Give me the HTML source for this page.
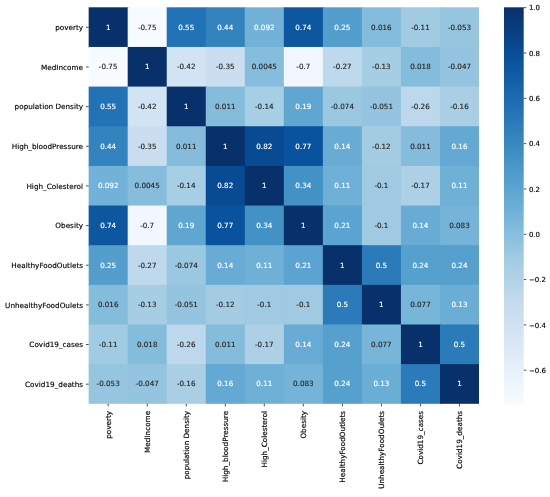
<!DOCTYPE html><html><head><meta charset="utf-8"><title>Correlation heatmap</title><style>html,body{margin:0;padding:0;background:#fff}svg{display:block}text{paint-order:stroke;stroke-width:0.15px;stroke-linejoin:round}.tx{filter:url(#bl)}</style></head><body><svg width="550" height="497" viewBox="0 0 550 497" font-family="'DejaVu Sans', 'Liberation Sans', sans-serif" font-size="7.25">
<defs><linearGradient id="cb" x1="0" y1="1" x2="0" y2="0">
<stop offset="0%" stop-color="#f7fbff"/>
<stop offset="12.5%" stop-color="#deebf7"/>
<stop offset="25%" stop-color="#c6dbef"/>
<stop offset="37.5%" stop-color="#9dcae1"/>
<stop offset="50%" stop-color="#6aaed6"/>
<stop offset="62.5%" stop-color="#4191c6"/>
<stop offset="75%" stop-color="#2070b4"/>
<stop offset="87.5%" stop-color="#08509b"/>
<stop offset="100%" stop-color="#08306b"/>
</linearGradient><filter id="bl" x="-5%" y="-5%" width="110%" height="110%"><feGaussianBlur stdDeviation="0.35"/></filter></defs>
<rect width="550" height="497" fill="#fff"/>
<g>
<rect x="88.65" y="7.30" width="40.04" height="40.65" fill="#08306b"/>
<rect x="127.69" y="7.30" width="40.04" height="40.65" fill="#f7fbff"/>
<rect x="166.72" y="7.30" width="40.04" height="40.65" fill="#2272b6"/>
<rect x="205.76" y="7.30" width="40.04" height="40.65" fill="#3383be"/>
<rect x="244.79" y="7.30" width="40.04" height="40.65" fill="#72b2d8"/>
<rect x="283.83" y="7.30" width="40.04" height="40.65" fill="#0d57a1"/>
<rect x="322.86" y="7.30" width="40.04" height="40.65" fill="#539ecd"/>
<rect x="361.89" y="7.30" width="40.04" height="40.65" fill="#84bcdb"/>
<rect x="400.93" y="7.30" width="40.04" height="40.65" fill="#a1cbe2"/>
<rect x="439.97" y="7.30" width="39.04" height="40.65" fill="#95c5df"/>
<rect x="88.65" y="46.95" width="40.04" height="40.65" fill="#f7fbff"/>
<rect x="127.69" y="46.95" width="40.04" height="40.65" fill="#08306b"/>
<rect x="166.72" y="46.95" width="40.04" height="40.65" fill="#d2e3f3"/>
<rect x="205.76" y="46.95" width="40.04" height="40.65" fill="#cadef0"/>
<rect x="244.79" y="46.95" width="40.04" height="40.65" fill="#87bddc"/>
<rect x="283.83" y="46.95" width="40.04" height="40.65" fill="#f2f7fd"/>
<rect x="322.86" y="46.95" width="40.04" height="40.65" fill="#bed8ec"/>
<rect x="361.89" y="46.95" width="40.04" height="40.65" fill="#a5cde3"/>
<rect x="400.93" y="46.95" width="40.04" height="40.65" fill="#84bcdb"/>
<rect x="439.97" y="46.95" width="39.04" height="40.65" fill="#94c4df"/>
<rect x="88.65" y="86.60" width="40.04" height="40.65" fill="#2272b6"/>
<rect x="127.69" y="86.60" width="40.04" height="40.65" fill="#d2e3f3"/>
<rect x="166.72" y="86.60" width="40.04" height="40.65" fill="#08306b"/>
<rect x="205.76" y="86.60" width="40.04" height="40.65" fill="#85bcdc"/>
<rect x="244.79" y="86.60" width="40.04" height="40.65" fill="#a6cee4"/>
<rect x="283.83" y="86.60" width="40.04" height="40.65" fill="#5fa6d1"/>
<rect x="322.86" y="86.60" width="40.04" height="40.65" fill="#9ac8e0"/>
<rect x="361.89" y="86.60" width="40.04" height="40.65" fill="#94c4df"/>
<rect x="400.93" y="86.60" width="40.04" height="40.65" fill="#bdd7ec"/>
<rect x="439.97" y="86.60" width="39.04" height="40.65" fill="#aacfe5"/>
<rect x="88.65" y="126.25" width="40.04" height="40.65" fill="#3383be"/>
<rect x="127.69" y="126.25" width="40.04" height="40.65" fill="#cadef0"/>
<rect x="166.72" y="126.25" width="40.04" height="40.65" fill="#85bcdc"/>
<rect x="205.76" y="126.25" width="40.04" height="40.65" fill="#08306b"/>
<rect x="244.79" y="126.25" width="40.04" height="40.65" fill="#084b93"/>
<rect x="283.83" y="126.25" width="40.04" height="40.65" fill="#09529d"/>
<rect x="322.86" y="126.25" width="40.04" height="40.65" fill="#68acd5"/>
<rect x="361.89" y="126.25" width="40.04" height="40.65" fill="#a3cce3"/>
<rect x="400.93" y="126.25" width="40.04" height="40.65" fill="#85bcdc"/>
<rect x="439.97" y="126.25" width="39.04" height="40.65" fill="#64a9d3"/>
<rect x="88.65" y="165.90" width="40.04" height="40.65" fill="#72b2d8"/>
<rect x="127.69" y="165.90" width="40.04" height="40.65" fill="#87bddc"/>
<rect x="166.72" y="165.90" width="40.04" height="40.65" fill="#a6cee4"/>
<rect x="205.76" y="165.90" width="40.04" height="40.65" fill="#084b93"/>
<rect x="244.79" y="165.90" width="40.04" height="40.65" fill="#08306b"/>
<rect x="283.83" y="165.90" width="40.04" height="40.65" fill="#4292c6"/>
<rect x="322.86" y="165.90" width="40.04" height="40.65" fill="#6fb0d7"/>
<rect x="361.89" y="165.90" width="40.04" height="40.65" fill="#9fcae1"/>
<rect x="400.93" y="165.90" width="40.04" height="40.65" fill="#add0e6"/>
<rect x="439.97" y="165.90" width="39.04" height="40.65" fill="#6fb0d7"/>
<rect x="88.65" y="205.55" width="40.04" height="40.65" fill="#0d57a1"/>
<rect x="127.69" y="205.55" width="40.04" height="40.65" fill="#f2f7fd"/>
<rect x="166.72" y="205.55" width="40.04" height="40.65" fill="#5fa6d1"/>
<rect x="205.76" y="205.55" width="40.04" height="40.65" fill="#09529d"/>
<rect x="244.79" y="205.55" width="40.04" height="40.65" fill="#4292c6"/>
<rect x="283.83" y="205.55" width="40.04" height="40.65" fill="#08306b"/>
<rect x="322.86" y="205.55" width="40.04" height="40.65" fill="#5ba3d0"/>
<rect x="361.89" y="205.55" width="40.04" height="40.65" fill="#9fcae1"/>
<rect x="400.93" y="205.55" width="40.04" height="40.65" fill="#68acd5"/>
<rect x="439.97" y="205.55" width="39.04" height="40.65" fill="#75b4d8"/>
<rect x="88.65" y="245.20" width="40.04" height="40.65" fill="#539ecd"/>
<rect x="127.69" y="245.20" width="40.04" height="40.65" fill="#bed8ec"/>
<rect x="166.72" y="245.20" width="40.04" height="40.65" fill="#9ac8e0"/>
<rect x="205.76" y="245.20" width="40.04" height="40.65" fill="#68acd5"/>
<rect x="244.79" y="245.20" width="40.04" height="40.65" fill="#6fb0d7"/>
<rect x="283.83" y="245.20" width="40.04" height="40.65" fill="#5ba3d0"/>
<rect x="322.86" y="245.20" width="40.04" height="40.65" fill="#08306b"/>
<rect x="361.89" y="245.20" width="40.04" height="40.65" fill="#2b7bba"/>
<rect x="400.93" y="245.20" width="40.04" height="40.65" fill="#56a0ce"/>
<rect x="439.97" y="245.20" width="39.04" height="40.65" fill="#56a0ce"/>
<rect x="88.65" y="284.85" width="40.04" height="40.65" fill="#84bcdb"/>
<rect x="127.69" y="284.85" width="40.04" height="40.65" fill="#a5cde3"/>
<rect x="166.72" y="284.85" width="40.04" height="40.65" fill="#94c4df"/>
<rect x="205.76" y="284.85" width="40.04" height="40.65" fill="#a3cce3"/>
<rect x="244.79" y="284.85" width="40.04" height="40.65" fill="#9fcae1"/>
<rect x="283.83" y="284.85" width="40.04" height="40.65" fill="#9fcae1"/>
<rect x="322.86" y="284.85" width="40.04" height="40.65" fill="#2b7bba"/>
<rect x="361.89" y="284.85" width="40.04" height="40.65" fill="#08306b"/>
<rect x="400.93" y="284.85" width="40.04" height="40.65" fill="#77b5d9"/>
<rect x="439.97" y="284.85" width="39.04" height="40.65" fill="#6aaed6"/>
<rect x="88.65" y="324.50" width="40.04" height="40.65" fill="#a1cbe2"/>
<rect x="127.69" y="324.50" width="40.04" height="40.65" fill="#84bcdb"/>
<rect x="166.72" y="324.50" width="40.04" height="40.65" fill="#bdd7ec"/>
<rect x="205.76" y="324.50" width="40.04" height="40.65" fill="#85bcdc"/>
<rect x="244.79" y="324.50" width="40.04" height="40.65" fill="#add0e6"/>
<rect x="283.83" y="324.50" width="40.04" height="40.65" fill="#68acd5"/>
<rect x="322.86" y="324.50" width="40.04" height="40.65" fill="#56a0ce"/>
<rect x="361.89" y="324.50" width="40.04" height="40.65" fill="#77b5d9"/>
<rect x="400.93" y="324.50" width="40.04" height="40.65" fill="#08306b"/>
<rect x="439.97" y="324.50" width="39.04" height="40.65" fill="#2b7bba"/>
<rect x="88.65" y="364.15" width="40.04" height="39.65" fill="#95c5df"/>
<rect x="127.69" y="364.15" width="40.04" height="39.65" fill="#94c4df"/>
<rect x="166.72" y="364.15" width="40.04" height="39.65" fill="#aacfe5"/>
<rect x="205.76" y="364.15" width="40.04" height="39.65" fill="#64a9d3"/>
<rect x="244.79" y="364.15" width="40.04" height="39.65" fill="#6fb0d7"/>
<rect x="283.83" y="364.15" width="40.04" height="39.65" fill="#75b4d8"/>
<rect x="322.86" y="364.15" width="40.04" height="39.65" fill="#56a0ce"/>
<rect x="361.89" y="364.15" width="40.04" height="39.65" fill="#6aaed6"/>
<rect x="400.93" y="364.15" width="40.04" height="39.65" fill="#2b7bba"/>
<rect x="439.97" y="364.15" width="39.04" height="39.65" fill="#08306b"/>
</g>
<g class="tx" text-anchor="middle" font-size="7.2">
<text x="108.17" y="29.63" fill="#ffffff" stroke="#ffffff">1</text>
<text x="147.20" y="29.63" fill="#262626" stroke="#262626">-0.75</text>
<text x="186.24" y="29.63" fill="#ffffff" stroke="#ffffff">0.55</text>
<text x="225.27" y="29.63" fill="#ffffff" stroke="#ffffff">0.44</text>
<text x="264.31" y="29.63" fill="#ffffff" stroke="#ffffff">0.092</text>
<text x="303.34" y="29.63" fill="#ffffff" stroke="#ffffff">0.74</text>
<text x="342.38" y="29.63" fill="#ffffff" stroke="#ffffff">0.25</text>
<text x="381.41" y="29.63" fill="#262626" stroke="#262626">0.016</text>
<text x="420.45" y="29.63" fill="#262626" stroke="#262626">-0.11</text>
<text x="459.48" y="29.63" fill="#262626" stroke="#262626">-0.053</text>
<text x="108.17" y="69.28" fill="#262626" stroke="#262626">-0.75</text>
<text x="147.20" y="69.28" fill="#ffffff" stroke="#ffffff">1</text>
<text x="186.24" y="69.28" fill="#262626" stroke="#262626">-0.42</text>
<text x="225.27" y="69.28" fill="#262626" stroke="#262626">-0.35</text>
<text x="264.31" y="69.28" fill="#262626" stroke="#262626">0.0045</text>
<text x="303.34" y="69.28" fill="#262626" stroke="#262626">-0.7</text>
<text x="342.38" y="69.28" fill="#262626" stroke="#262626">-0.27</text>
<text x="381.41" y="69.28" fill="#262626" stroke="#262626">-0.13</text>
<text x="420.45" y="69.28" fill="#262626" stroke="#262626">0.018</text>
<text x="459.48" y="69.28" fill="#262626" stroke="#262626">-0.047</text>
<text x="108.17" y="108.93" fill="#ffffff" stroke="#ffffff">0.55</text>
<text x="147.20" y="108.93" fill="#262626" stroke="#262626">-0.42</text>
<text x="186.24" y="108.93" fill="#ffffff" stroke="#ffffff">1</text>
<text x="225.27" y="108.93" fill="#262626" stroke="#262626">0.011</text>
<text x="264.31" y="108.93" fill="#262626" stroke="#262626">-0.14</text>
<text x="303.34" y="108.93" fill="#ffffff" stroke="#ffffff">0.19</text>
<text x="342.38" y="108.93" fill="#262626" stroke="#262626">-0.074</text>
<text x="381.41" y="108.93" fill="#262626" stroke="#262626">-0.051</text>
<text x="420.45" y="108.93" fill="#262626" stroke="#262626">-0.26</text>
<text x="459.48" y="108.93" fill="#262626" stroke="#262626">-0.16</text>
<text x="108.17" y="148.58" fill="#ffffff" stroke="#ffffff">0.44</text>
<text x="147.20" y="148.58" fill="#262626" stroke="#262626">-0.35</text>
<text x="186.24" y="148.58" fill="#262626" stroke="#262626">0.011</text>
<text x="225.27" y="148.58" fill="#ffffff" stroke="#ffffff">1</text>
<text x="264.31" y="148.58" fill="#ffffff" stroke="#ffffff">0.82</text>
<text x="303.34" y="148.58" fill="#ffffff" stroke="#ffffff">0.77</text>
<text x="342.38" y="148.58" fill="#ffffff" stroke="#ffffff">0.14</text>
<text x="381.41" y="148.58" fill="#262626" stroke="#262626">-0.12</text>
<text x="420.45" y="148.58" fill="#262626" stroke="#262626">0.011</text>
<text x="459.48" y="148.58" fill="#ffffff" stroke="#ffffff">0.16</text>
<text x="108.17" y="188.23" fill="#ffffff" stroke="#ffffff">0.092</text>
<text x="147.20" y="188.23" fill="#262626" stroke="#262626">0.0045</text>
<text x="186.24" y="188.23" fill="#262626" stroke="#262626">-0.14</text>
<text x="225.27" y="188.23" fill="#ffffff" stroke="#ffffff">0.82</text>
<text x="264.31" y="188.23" fill="#ffffff" stroke="#ffffff">1</text>
<text x="303.34" y="188.23" fill="#ffffff" stroke="#ffffff">0.34</text>
<text x="342.38" y="188.23" fill="#ffffff" stroke="#ffffff">0.11</text>
<text x="381.41" y="188.23" fill="#262626" stroke="#262626">-0.1</text>
<text x="420.45" y="188.23" fill="#262626" stroke="#262626">-0.17</text>
<text x="459.48" y="188.23" fill="#ffffff" stroke="#ffffff">0.11</text>
<text x="108.17" y="227.88" fill="#ffffff" stroke="#ffffff">0.74</text>
<text x="147.20" y="227.88" fill="#262626" stroke="#262626">-0.7</text>
<text x="186.24" y="227.88" fill="#ffffff" stroke="#ffffff">0.19</text>
<text x="225.27" y="227.88" fill="#ffffff" stroke="#ffffff">0.77</text>
<text x="264.31" y="227.88" fill="#ffffff" stroke="#ffffff">0.34</text>
<text x="303.34" y="227.88" fill="#ffffff" stroke="#ffffff">1</text>
<text x="342.38" y="227.88" fill="#ffffff" stroke="#ffffff">0.21</text>
<text x="381.41" y="227.88" fill="#262626" stroke="#262626">-0.1</text>
<text x="420.45" y="227.88" fill="#ffffff" stroke="#ffffff">0.14</text>
<text x="459.48" y="227.88" fill="#262626" stroke="#262626">0.083</text>
<text x="108.17" y="267.53" fill="#ffffff" stroke="#ffffff">0.25</text>
<text x="147.20" y="267.53" fill="#262626" stroke="#262626">-0.27</text>
<text x="186.24" y="267.53" fill="#262626" stroke="#262626">-0.074</text>
<text x="225.27" y="267.53" fill="#ffffff" stroke="#ffffff">0.14</text>
<text x="264.31" y="267.53" fill="#ffffff" stroke="#ffffff">0.11</text>
<text x="303.34" y="267.53" fill="#ffffff" stroke="#ffffff">0.21</text>
<text x="342.38" y="267.53" fill="#ffffff" stroke="#ffffff">1</text>
<text x="381.41" y="267.53" fill="#ffffff" stroke="#ffffff">0.5</text>
<text x="420.45" y="267.53" fill="#ffffff" stroke="#ffffff">0.24</text>
<text x="459.48" y="267.53" fill="#ffffff" stroke="#ffffff">0.24</text>
<text x="108.17" y="307.18" fill="#262626" stroke="#262626">0.016</text>
<text x="147.20" y="307.18" fill="#262626" stroke="#262626">-0.13</text>
<text x="186.24" y="307.18" fill="#262626" stroke="#262626">-0.051</text>
<text x="225.27" y="307.18" fill="#262626" stroke="#262626">-0.12</text>
<text x="264.31" y="307.18" fill="#262626" stroke="#262626">-0.1</text>
<text x="303.34" y="307.18" fill="#262626" stroke="#262626">-0.1</text>
<text x="342.38" y="307.18" fill="#ffffff" stroke="#ffffff">0.5</text>
<text x="381.41" y="307.18" fill="#ffffff" stroke="#ffffff">1</text>
<text x="420.45" y="307.18" fill="#262626" stroke="#262626">0.077</text>
<text x="459.48" y="307.18" fill="#ffffff" stroke="#ffffff">0.13</text>
<text x="108.17" y="346.83" fill="#262626" stroke="#262626">-0.11</text>
<text x="147.20" y="346.83" fill="#262626" stroke="#262626">0.018</text>
<text x="186.24" y="346.83" fill="#262626" stroke="#262626">-0.26</text>
<text x="225.27" y="346.83" fill="#262626" stroke="#262626">0.011</text>
<text x="264.31" y="346.83" fill="#262626" stroke="#262626">-0.17</text>
<text x="303.34" y="346.83" fill="#ffffff" stroke="#ffffff">0.14</text>
<text x="342.38" y="346.83" fill="#ffffff" stroke="#ffffff">0.24</text>
<text x="381.41" y="346.83" fill="#262626" stroke="#262626">0.077</text>
<text x="420.45" y="346.83" fill="#ffffff" stroke="#ffffff">1</text>
<text x="459.48" y="346.83" fill="#ffffff" stroke="#ffffff">0.5</text>
<text x="108.17" y="386.48" fill="#262626" stroke="#262626">-0.053</text>
<text x="147.20" y="386.48" fill="#262626" stroke="#262626">-0.047</text>
<text x="186.24" y="386.48" fill="#262626" stroke="#262626">-0.16</text>
<text x="225.27" y="386.48" fill="#ffffff" stroke="#ffffff">0.16</text>
<text x="264.31" y="386.48" fill="#ffffff" stroke="#ffffff">0.11</text>
<text x="303.34" y="386.48" fill="#262626" stroke="#262626">0.083</text>
<text x="342.38" y="386.48" fill="#ffffff" stroke="#ffffff">0.24</text>
<text x="381.41" y="386.48" fill="#ffffff" stroke="#ffffff">0.13</text>
<text x="420.45" y="386.48" fill="#ffffff" stroke="#ffffff">0.5</text>
<text x="459.48" y="386.48" fill="#ffffff" stroke="#ffffff">1</text>
</g>
<g stroke="#000" stroke-width="0.7">
<line x1="86.05" y1="27.32" x2="88.65" y2="27.32"/>
<line x1="86.05" y1="66.97" x2="88.65" y2="66.97"/>
<line x1="86.05" y1="106.62" x2="88.65" y2="106.62"/>
<line x1="86.05" y1="146.28" x2="88.65" y2="146.28"/>
<line x1="86.05" y1="185.92" x2="88.65" y2="185.92"/>
<line x1="86.05" y1="225.57" x2="88.65" y2="225.57"/>
<line x1="86.05" y1="265.22" x2="88.65" y2="265.22"/>
<line x1="86.05" y1="304.88" x2="88.65" y2="304.88"/>
<line x1="86.05" y1="344.52" x2="88.65" y2="344.52"/>
<line x1="86.05" y1="384.18" x2="88.65" y2="384.18"/>
<line x1="108.17" y1="403.80" x2="108.17" y2="406.40"/>
<line x1="147.20" y1="403.80" x2="147.20" y2="406.40"/>
<line x1="186.24" y1="403.80" x2="186.24" y2="406.40"/>
<line x1="225.27" y1="403.80" x2="225.27" y2="406.40"/>
<line x1="264.31" y1="403.80" x2="264.31" y2="406.40"/>
<line x1="303.34" y1="403.80" x2="303.34" y2="406.40"/>
<line x1="342.38" y1="403.80" x2="342.38" y2="406.40"/>
<line x1="381.41" y1="403.80" x2="381.41" y2="406.40"/>
<line x1="420.45" y1="403.80" x2="420.45" y2="406.40"/>
<line x1="459.48" y1="403.80" x2="459.48" y2="406.40"/>
<line x1="523.70" y1="7.70" x2="526.30" y2="7.70"/>
<line x1="523.70" y1="53.01" x2="526.30" y2="53.01"/>
<line x1="523.70" y1="98.33" x2="526.30" y2="98.33"/>
<line x1="523.70" y1="143.64" x2="526.30" y2="143.64"/>
<line x1="523.70" y1="188.96" x2="526.30" y2="188.96"/>
<line x1="523.70" y1="234.27" x2="526.30" y2="234.27"/>
<line x1="523.70" y1="279.59" x2="526.30" y2="279.59"/>
<line x1="523.70" y1="324.90" x2="526.30" y2="324.90"/>
<line x1="523.70" y1="370.21" x2="526.30" y2="370.21"/>
</g>
<g class="tx" text-anchor="end" fill="#000" stroke="#000">
<text x="83.05" y="30.08">poverty</text>
<text x="83.05" y="69.73">MedIncome</text>
<text x="83.05" y="109.38">population Density</text>
<text x="83.05" y="149.03">High_bloodPressure</text>
<text x="83.05" y="188.68">High_Colesterol</text>
<text x="83.05" y="228.33">Obesity</text>
<text x="83.05" y="267.98">HealthyFoodOutlets</text>
<text x="83.05" y="307.63">UnhealthyFoodOulets</text>
<text x="83.05" y="347.28">Covid19_cases</text>
<text x="83.05" y="386.93">Covid19_deaths</text>
</g>
<g class="tx" text-anchor="end" fill="#000" stroke="#000">
<text transform="translate(110.57,410.90) rotate(-90)" x="0" y="0">poverty</text>
<text transform="translate(149.60,410.90) rotate(-90)" x="0" y="0">MedIncome</text>
<text transform="translate(188.64,410.90) rotate(-90)" x="0" y="0">population Density</text>
<text transform="translate(227.67,410.90) rotate(-90)" x="0" y="0">High_bloodPressure</text>
<text transform="translate(266.71,410.90) rotate(-90)" x="0" y="0">High_Colesterol</text>
<text transform="translate(305.74,410.90) rotate(-90)" x="0" y="0">Obesity</text>
<text transform="translate(344.78,410.90) rotate(-90)" x="0" y="0">HealthyFoodOutlets</text>
<text transform="translate(383.81,410.90) rotate(-90)" x="0" y="0">UnhealthyFoodOulets</text>
<text transform="translate(422.85,410.90) rotate(-90)" x="0" y="0">Covid19_cases</text>
<text transform="translate(461.88,410.90) rotate(-90)" x="0" y="0">Covid19_deaths</text>
</g>
<rect x="504.00" y="7.30" width="19.70" height="396.50" fill="url(#cb)"/>
<g class="tx" fill="#000" stroke="#000" font-size="7">
<text x="528.90" y="10.36">1.0</text>
<text x="528.90" y="55.67">0.8</text>
<text x="528.90" y="100.99">0.6</text>
<text x="528.90" y="146.30">0.4</text>
<text x="528.90" y="191.62">0.2</text>
<text x="528.90" y="236.93">0.0</text>
<text x="528.90" y="282.25">−0.2</text>
<text x="528.90" y="327.56">−0.4</text>
<text x="528.90" y="372.87">−0.6</text>
</g>
</svg></body></html>
